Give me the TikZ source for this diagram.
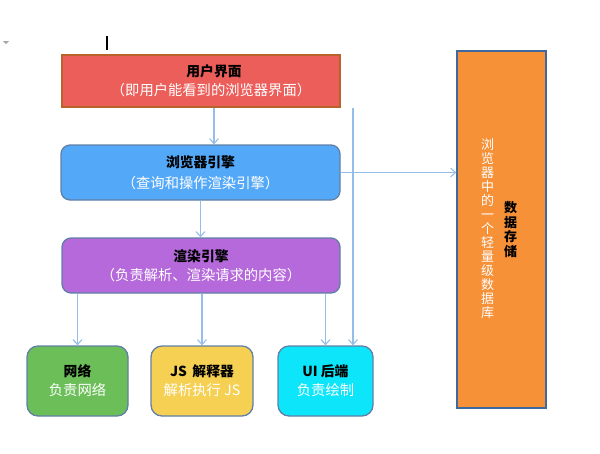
\documentclass[tikz,border=0pt]{standalone}
\usepackage{fontspec}
\usetikzlibrary{arrows.meta,calc,positioning}
\newfontfamily\cjk{Noto Sans CJK SC}
\newcommand\subline[1]{{\color{white}\fontsize{14.3}{19}\selectfont #1}}
\definecolor{uired}{RGB}{236,94,90}
\definecolor{uiline}{RGB}{184,98,44}
\definecolor{engblue}{RGB}{84,168,248}
\definecolor{renpurple}{RGB}{181,105,219}
\definecolor{netgreen}{RGB}{107,190,88}
\definecolor{jsyellow}{RGB}{246,208,82}
\definecolor{uicyan}{RGB}{12,229,250}
\definecolor{storeorange}{RGB}{246,145,56}
\definecolor{storeline}{RGB}{62,104,160}
\definecolor{boxline}{RGB}{96,128,166}
\definecolor{linkblue}{RGB}{148,190,232}

\begin{document}
\begin{tikzpicture}[
    x=1pt,y=-1pt,
    box/.style={draw=boxline, line width=1.3pt, rounded corners=9pt, inner sep=0pt,
      align=center, font=\cjk\fontsize{13.8}{19}\selectfont},
    smallbox/.style={box, rounded corners=11pt, minimum width=100, minimum height=70},
    vtext/.style={inner sep=0pt, align=center, font=\cjk\fontsize{13}{14}\selectfont},
    link/.style={draw=linkblue, line width=1.1pt, -{Straight Barb[length=5pt,width=9pt]}}
    ]
    \useasboundingbox (0,0) rectangle (600,453);
    \fill[gray!70] (3,41) -- (9,41) -- (6,44) -- cycle;
    \draw[line width=1.8pt] (107,36) -- (107,50);

    \node[box, rounded corners=0pt, fill=uired, draw=uiline, minimum width=278, minimum height=52]
      (ui) at (201,81) {\hspace*{26pt}{\bfseries 用户界面}\\\hspace*{20pt}\subline{（即用户能看到的浏览器界面）}};
    \node[box, fill=engblue, minimum width=279, minimum height=55]
      (browser) at (200.5,172.5) {{\bfseries 浏览器引擎}\\[2pt]\subline{（查询和操作渲染引擎）}};
    \node[box, fill=renpurple, minimum width=278, minimum height=55]
      (render) at (201,265.5) {{\bfseries 渲染引擎}\\\subline{（负责解析、渲染请求的内容）}};
    \node[smallbox, fill=netgreen, minimum width=101]
      (net) at (77.5,381) {{\bfseries 网络}\\\subline{负责网络}};
    \node[smallbox, fill=jsyellow, minimum width=102]
      (js) at (202,381) {{\bfseries JS\, 解释器}\\\subline{解析执行 JS}};
    \node[smallbox, fill=uicyan, minimum width=95]
      (uib) at (325.5,381) {{\bfseries UI 后端}\\\subline{负责绘制}};
    \node[draw=storeline, line width=1.3pt, fill=storeorange, minimum width=89, minimum height=357]
      (store) at (501.5,229.5) {};
    \node[vtext, text=white] (storedesc) at ($(store.center)+(-14,-1)$)
      {浏\\览\\器\\中\\的\\一\\个\\轻\\量\\级\\数\\据\\库};
    \node[vtext, font=\cjk\bfseries\fontsize{13}{14.5}\selectfont] (storetitle) at ($(store.center)+(9,0)$)
      {数\\据\\存\\储};

    \draw[link] ($(ui.south)+(13,0)$) coordinate (t1) -- (t1 |- browser.north);
    \draw[link] ($(ui.south)+(152,0)$) coordinate (t2) -- (t2 |- uib.north);
    \draw[link] (browser.east) -- (browser.east -| store.west);
    \draw[link] (browser.south) -- (browser.south |- render.north);
    \draw[link] (net.north |- render.south) -- (net.north);
    \draw[link] (js.north |- render.south) -- (js.north);
    \draw[link] (uib.north |- render.south) -- (uib.north);
  \end{tikzpicture}
\end{document}
